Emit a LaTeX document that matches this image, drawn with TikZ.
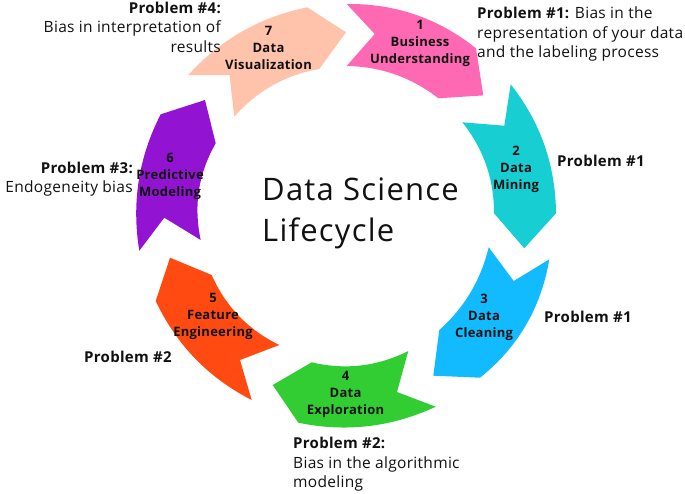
\documentclass[tikz,border=0pt]{standalone}
\usepackage{fontspec}
\setmainfont{Open Sans}[LetterSpace=2]
\newfontfamily\titlefont{Open Sans}[LetterSpace=4]
\definecolor{pinkc}{HTML}{FF69B4}
\definecolor{tealc}{HTML}{17CFD3}
\definecolor{bluec}{HTML}{12BBFF}
\definecolor{greenc}{HTML}{32CD32}
\definecolor{orangec}{HTML}{FF4B12}
\definecolor{purplec}{HTML}{9313D3}
\definecolor{peachc}{HTML}{FFC2AB}
\definecolor{inkc}{HTML}{111111}
\tikzset{
  stage/.style={font=\fontsize{13}{17}\selectfont\bfseries,text=inkc,align=center,inner sep=0pt},
  probtext/.style={font=\fontsize{15.5}{19.6}\selectfont,text=inkc,inner sep=0pt},
  titletext/.style={anchor=base west,inner sep=0pt,font=\fontsize{31}{41}\titlefont\selectfont,text=inkc}
}
\newcommand{\pb}[1]{{\fontsize{15}{19.6}\selectfont\bfseries #1}}
% circular arc about the ring centre (345,215), from the current point (#1,#2) to (#3,#4)
\def\ringarc#1#2#3#4{\pgfextra{%
  \pgfmathsetmacro\ringux{(#1-345)/100}\pgfmathsetmacro\ringuy{(#2-215)/100}%
  \pgfmathsetmacro\ringmx{(#1+#3)/200-3.45}\pgfmathsetmacro\ringmy{(#2+#4)/200-2.15}%
  \pgfmathsetmacro\rings{(\ringux*\ringux+\ringuy*\ringuy)/(\ringmx*\ringmx+\ringmy*\ringmy)}%
  \pgfmathsetmacro\ringqx{345+100*\ringmx*\rings}\pgfmathsetmacro\ringqy{215+100*\ringmy*\rings}%
  \pgfmathsetmacro\ringax{(#1+2*\ringqx)/3}\pgfmathsetmacro\ringay{(#2+2*\ringqy)/3}%
  \pgfmathsetmacro\ringbx{(#3+2*\ringqx)/3}\pgfmathsetmacro\ringby{(#4+2*\ringqy)/3}%
  }.. controls (\ringax,\ringay) and (\ringbx,\ringby) .. (#3,#4)}
\begin{document}
\begin{tikzpicture}[x=1pt,y=-1pt]
\useasboundingbox (0,0) rectangle (685,493);
% pink
\fill[pinkc] (346.7,4) -- (374.7,34) -- (346.7,66)
  \ringarc{346.7}{66}{438.3}{98.3}
  -- (483.3,95.4) -- (476,48.3)
  \ringarc{476}{48.3}{346.7}{4} -- cycle;
% teal
\fill[tealc] (510.7,84.3) -- (504.3,125.7) -- (462.3,122.3)
  \ringarc{462.3}{122.3}{494}{213.3}
  -- (524.3,248.3) -- (556,213.3)
  \ringarc{556}{213.3}{510.7}{84.3} -- cycle;
% blue
\fill[bluec] (549.3,259.3) -- (513.7,281) -- (488.7,247.3)
  \ringarc{488.7}{247.3}{439.3}{330}
  -- (433.3,375.7) -- (480,377.7)
  \ringarc{480}{377.7}{549.3}{259.3} -- cycle;
% green
\fill[greenc] (408.3,351) -- (397,392) -- (435.7,406.7)
  \ringarc{435.7}{406.7}{298.3}{422.7}
  -- (272.7,385) -- (311.7,362.3)
  \ringarc{311.7}{362.3}{408.3}{351} -- cycle;
% orange
\fill[orangec] (170,257.7) -- (211.7,275)
  \ringarc{211.7}{275}{279.3}{345}
  -- (240,360) -- (251.7,400)
  \ringarc{251.7}{400}{155.7}{301} -- cycle;
% purple
\fill[purplec] (205,100) -- (215.7,143.3)
  \ringarc{215.7}{143.3}{200.7}{240}
  -- (164.3,217.7) -- (139.3,250.7)
  \ringarc{139.3}{250.7}{160.7}{114.3} -- cycle;
% peach
\fill[peachc] (307.3,7.3) -- (346,32.3) -- (319.3,69)
  \ringarc{319.3}{69}{234.3}{116.7}
  -- (229.5,75) -- (188.3,75)
  \ringarc{188.3}{75}{307.3}{7.3} -- cycle;
% stage labels
\node[stage] (s1) at (420,43) {1\\Business\\Understanding};
\node[stage] (s2) at (516,169) {2\\Data\\Mining};
\node[stage] (s3) at (484,317) {3\\Data\\Cleaning};
\node[stage] (s4) at (345.5,394) {4\\Data\\Exploration};
\node[stage] (s5) at (213,316) {5\\Feature\\Engineering};
\node[stage] (s6) at (170,176) {6\\Predictive\\Modeling};
\node[stage] (s7) at (268.5,48) {7\\Data\\Visualization};
% title
\node[titletext] (title) at (262,200) {Data Science};
\node[titletext] (title2) at (262,241) {Lifecycle};
% annotations
\node[probtext,anchor=north west,align=left] (p1) at (477,6.5) {\pb{Problem \#1:} Bias in the\\representation of your data\\and the labeling process};
\node[probtext,anchor=north east,align=right] (p4) at (221,1.5) {\pb{Problem \#4:}\\Bias in interpretation of\\results};
\node[probtext,anchor=north east,align=right] (p3) at (133,161.5) {\pb{Problem \#3:}\\Endogeneity bias};
\node[probtext,anchor=west] (p1b) at (557,161) {\pb{Problem \#1}};
\node[probtext,anchor=west] (p1c) at (544,317) {\pb{Problem \#1}};
\node[probtext,anchor=west] (p2) at (84,357) {\pb{Problem \#2}};
\node[probtext,anchor=north west,align=left] (p2b) at (293,437) {\pb{Problem \#2:}\\Bias in the algorithmic\\modeling};
\end{tikzpicture}
\end{document}
